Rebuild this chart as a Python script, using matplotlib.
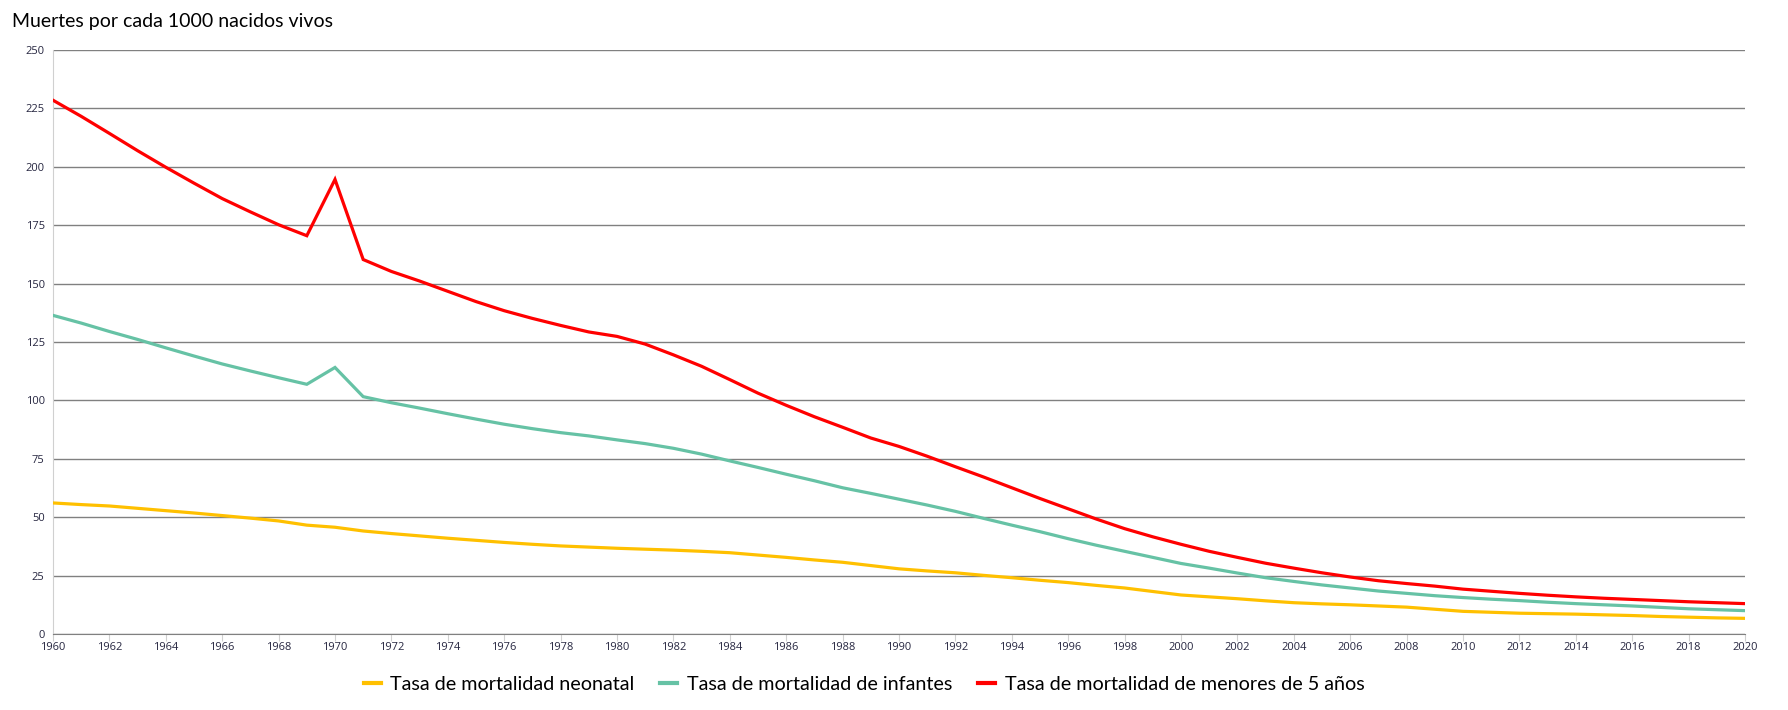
import matplotlib
matplotlib.use("Agg")
import matplotlib.pyplot as plt
import numpy as np

years = list(range(1960, 2021))

neonatal = [56.1, 55.4, 54.8, 53.8, 52.8, 51.8, 50.7, 49.6, 48.4, 46.6,
            45.7, 44.1, 43.0, 42.0, 41.0, 40.1, 39.2, 38.4, 37.7, 37.2,
            36.7, 36.3, 35.9, 35.4, 34.8, 33.8, 32.8, 31.7, 30.7, 29.3,
            27.9, 27.0, 26.2, 25.1, 24.1, 23.0, 22.0, 20.8, 19.7, 18.2,
            16.7, 15.9, 15.1, 14.2, 13.4, 12.9, 12.5, 12.0, 11.5, 10.6,
            9.7, 9.3, 8.9, 8.7, 8.5, 8.2, 7.9, 7.5, 7.2, 6.9, 6.7]

infantes = [136.4, 133.1, 129.5, 126.1, 122.5, 119.0, 115.6, 112.6, 109.7, 106.9,
            114.1, 101.6, 99.0, 96.7, 94.3, 92.0, 89.8, 87.9, 86.2, 84.8,
            83.1, 81.5, 79.5, 77.0, 74.1, 71.3, 68.4, 65.6, 62.6, 60.2,
            57.7, 55.2, 52.5, 49.5, 46.6, 43.8, 40.8, 38.0, 35.4, 32.8,
            30.2, 28.2, 26.1, 24.1, 22.5, 21.0, 19.7, 18.4, 17.4, 16.4,
            15.6, 14.9, 14.3, 13.6, 13.0, 12.5, 12.0, 11.4, 10.8, 10.4, 10.0]

menores5 = [228.5, 221.6, 214.3, 206.9, 199.8, 193.0, 186.4, 180.7, 175.2, 170.5,
            194.6, 160.3, 155.2, 151.1, 146.7, 142.3, 138.4, 135.1, 132.1, 129.3,
            127.4, 124.1, 119.5, 114.6, 108.9, 103.1, 97.9, 93.0, 88.5, 83.9,
            80.3, 76.1, 71.6, 67.2, 62.6, 58.0, 53.6, 49.2, 45.1, 41.6,
            38.4, 35.4, 32.8, 30.3, 28.2, 26.2, 24.4, 22.8, 21.6, 20.5,
            19.2, 18.3, 17.4, 16.6, 15.9, 15.3, 14.8, 14.3, 13.8, 13.4, 13.0]

series_names = ["Tasa de mortalidad neonatal",
                "Tasa de mortalidad de infantes",
                "Tasa de mortalidad de menores de 5 años"]
series_colors = ["#FFC000", "#66C2A5", "#FF0000"]

y_ticks = list(range(0, 251, 25))
x_ticks = list(range(1960, 2021, 2))
title = "Muertes por cada 1000 nacidos vivos"

W, H = 1788, 710
fig = plt.figure(figsize=(W / 100, H / 100), dpi=100)
ax = fig.add_axes([53 / W, 1 - 634 / H, (1745 - 53) / W, (634 - 50) / H])

for vals, name, col in zip([neonatal, infantes, menores5], series_names, series_colors):
    ax.plot(years, vals, color=col, lw=2.3, label=name, solid_joinstyle="miter", zorder=3)

ax.set_xlim(1960, 2020)
ax.set_ylim(0, 250)
ax.set_yticks(y_ticks)
ax.set_xticks(x_ticks)
ax.yaxis.grid(True, color="#808080", lw=1.0, zorder=0)
ax.set_axisbelow(True)
for s in ["top", "right"]:
    ax.spines[s].set_visible(False)
ax.spines["left"].set_color("#d0d0d0")
ax.spines["bottom"].set_color("#808080")
ax.tick_params(axis="y", length=0, pad=6, labelsize=8, labelcolor="#262640")
ax.tick_params(axis="x", length=5, color="#d0d0d0", pad=1, labelsize=8, labelcolor="#262640")
for lbl in ax.get_xticklabels() + ax.get_yticklabels():
    lbl.set_fontfamily("Open Sans")

fig.text(12 / W, 1 - 21 / H, title, fontsize=14, fontfamily="Lato", va="center", ha="left", color="#000000")

leg = fig.legend(loc="center", bbox_to_anchor=(864 / W, 1 - 684 / H), ncol=3, frameon=False,
                 prop={"family": "Lato", "size": 14.2}, handlelength=0.85, handletextpad=0.5,
                 columnspacing=1.3)
for l in leg.get_lines():
    l.set_linewidth(3)

fig.savefig("out.png", dpi=100)
